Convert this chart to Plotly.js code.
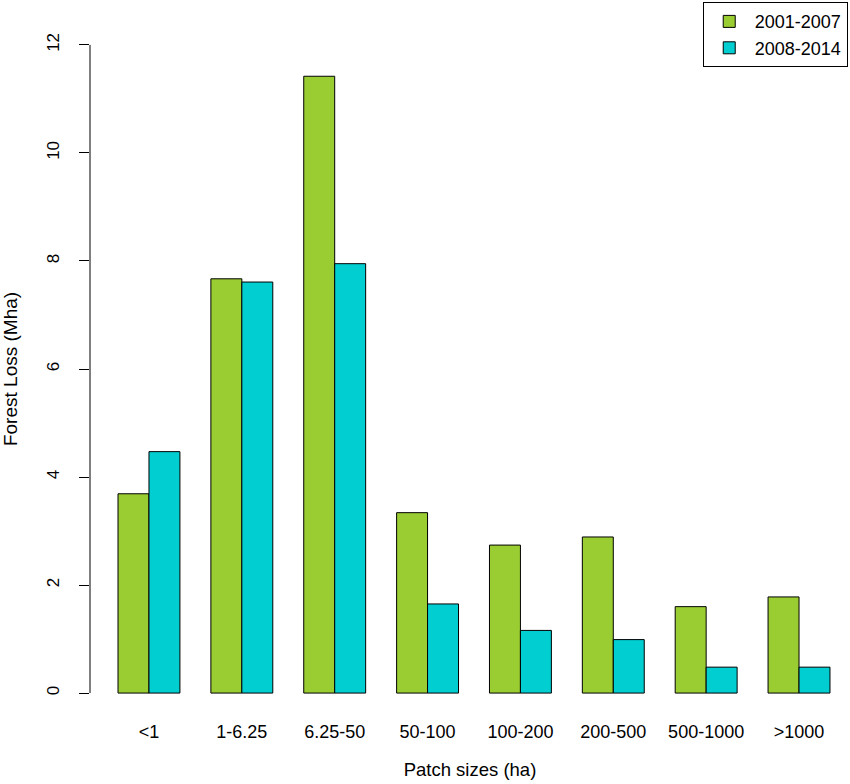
<!DOCTYPE html>
<html>
<head>
<meta charset="utf-8">
<script src="https://cdn.plot.ly/plotly-3.0.1.min.js"></script>
<style>html,body{margin:0;padding:0;background:#fff;}#chart{width:850px;height:784px;}</style>
</head>
<body>
<div id="chart"></div>
<script>
const categories = ['<1', '1-6.25', '6.25-50', '50-100', '100-200', '200-500', '500-1000', '>1000'];
const loss2001_2007 = [3.69, 7.67, 11.42, 3.34, 2.74, 2.89, 1.60, 1.78];
const loss2008_2014 = [4.47, 7.61, 7.95, 1.65, 1.16, 0.99, 0.48, 0.48];
const seriesNames = ['2001-2007', '2008-2014'];
const yTicks = [0, 2, 4, 6, 8, 10, 12];

const FONT = 'Liberation Sans, Arial, Helvetica, sans-serif';

const traces = [
  {
    type: 'bar', name: seriesNames[0], x: categories, y: loss2001_2007,
    marker: {color: '#9ACD32', line: {color: '#000000', width: 1}}
  },
  {
    type: 'bar', name: seriesNames[1], x: categories, y: loss2008_2014,
    marker: {color: '#00CED1', line: {color: '#000000', width: 1}}
  }
];

const layout = {
  width: 850, height: 784,
  margin: {l: 90, r: 0, t: 19, b: 65, pad: 0},
  paper_bgcolor: '#ffffff', plot_bgcolor: '#ffffff',
  font: {family: FONT, size: 18, color: '#000000'},
  barmode: 'group', bargap: 1/3, bargroupgap: 0,
  showlegend: true,
  legend: {
    x: 0.997, xanchor: 'right', y: 1.024, yanchor: 'top',
    bgcolor: '#ffffff', bordercolor: '#000000', borderwidth: 1,
    font: {family: FONT, size: 18, color: '#000000'},
    itemwidth: 41,
    traceorder: 'normal'
  },
  xaxis: {
    type: 'category', range: [-0.635, 7.549], autorange: false,
    showgrid: false, zeroline: false, showline: false, ticks: '',
    tickfont: {family: FONT, size: 18, color: '#000000'},
    title: {text: 'Patch sizes (ha)', font: {family: FONT, size: 18.5, color: '#000000'}, standoff: 22},
    fixedrange: true
  },
  yaxis: {
    range: [-0.48, 12.48], autorange: false,
    tickvals: yTicks, ticktext: yTicks.map(String),
    showgrid: false, zeroline: false, showline: false,
    ticks: 'outside', ticklen: 10, tickwidth: 1, tickcolor: '#000000',
    tickangle: -90, ticklabelstandoff: 13,
    tickfont: {family: FONT, size: 17, color: '#000000'},
    title: {text: 'Forest Loss (Mha)', font: {family: FONT, size: 19, color: '#000000'}, standoff: 22},
    fixedrange: true
  },
  shapes: [
    {type: 'line', xref: 'paper', x0: 0, x1: 0, yref: 'y', y0: yTicks[0], y1: yTicks[yTicks.length - 1],
     line: {color: '#000000', width: 1}}
  ]
};

Plotly.newPlot('chart', traces, layout, {displayModeBar: false, staticPlot: true});
</script>
</body>
</html>
